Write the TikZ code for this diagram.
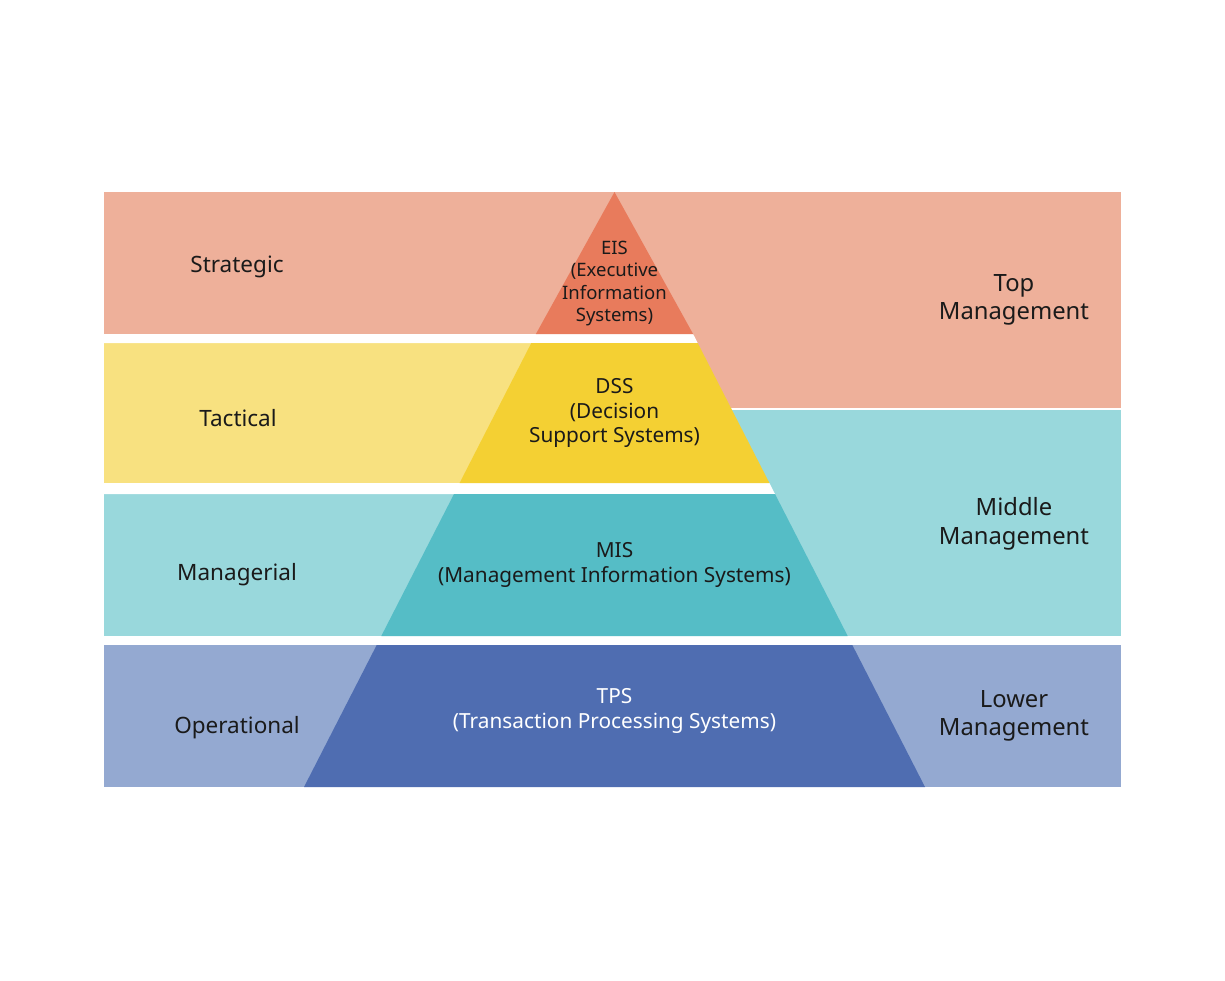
\documentclass[tikz,border=0pt]{standalone}
\usepackage{fontspec}
\setmainfont{Noto Sans}
\definecolor{topL}{HTML}{EEB09A}
\definecolor{eis}{HTML}{E87B5C}
\definecolor{tacL}{HTML}{F8E180}
\definecolor{dss}{HTML}{F4D033}
\definecolor{midL}{HTML}{99D8DC}
\definecolor{mis}{HTML}{55BDC6}
\definecolor{lowL}{HTML}{94A9D1}
\definecolor{tps}{HTML}{4F6DB1}
\definecolor{txt}{HTML}{1A1A1A}
\tikzset{
  sidelabel/.style={text=txt,align=center,inner sep=0pt,font=\fontsize{22.5}{28}\selectfont},
  mgmtlabel/.style={text=txt,align=center,inner sep=0pt,font=\fontsize{23.8}{28.5}\selectfont},
  pyrlabel/.style={text=txt,align=center,inner sep=0pt,font=\fontsize{20.8}{24.5}\selectfont},
  eislabel/.style={text=txt,align=center,inner sep=0pt,font=\fontsize{18.5}{22.3}\selectfont},
}
\begin{document}
\begin{tikzpicture}[x=1pt,y=-1pt]
\useasboundingbox (0,0) rectangle (1225,980);
\fill[white] (0,0) rectangle (1225,980);
% right bands
\fill[topL] (614.5,192) rectangle (1121,408);
\fill[midL] (614.5,410) rectangle (1121,636);
\fill[lowL] (614.5,645) rectangle (1121,787);
% left bands
\fill[topL] (104,192) rectangle (614.5,334);
\fill[tacL] (104,343) rectangle (614.5,483);
\fill[midL] (104,494) rectangle (614.5,636);
\fill[lowL] (104,645) rectangle (614.5,787);
% white gaps inside the pyramid region
\fill[white] (104,334) -- (693.1,334) -- (697.7,343) -- (104,343) -- cycle;
\fill[white] (104,483) -- (769.4,483) -- (775,494) -- (104,494) -- cycle;
% pyramid layers
\fill[eis] (614.5,192) -- (693.1,334) -- (535.9,334) -- cycle;
\fill[dss] (531.3,343) -- (697.7,343) -- (769.4,483) -- (459.6,483) -- cycle;
\fill[mis] (454,494) -- (775,494) -- (847.7,636) -- (381.3,636) -- cycle;
\fill[tps] (376.7,645) -- (852.3,645) -- (925,787) -- (304,787) -- cycle;
% left labels
\node[sidelabel] (strategic) at (237,267) {Strategic};
\node[sidelabel] (tactical) at (238,418.5) {Tactical};
\node[sidelabel] (managerial) at (237,575) {Managerial};
\node[sidelabel] (operational) at (237,728) {Operational};
% right labels
\node[mgmtlabel] (topm) at (1014,300) {Top\\Management};
\node[mgmtlabel] (midm) at (1014,524) {Middle\\Management};
\node[mgmtlabel] (lowm) at (1014,716) {Lower\\Management};
% pyramid labels
\node[eislabel] (eisl) at (614.5,283.5) {EIS\\(Executive\\Information\\Systems)};
\node[pyrlabel] (dssl) at (614.5,413) {DSS\\(Decision\\Support Systems)};
\node[pyrlabel] (misl) at (614.5,565) {MIS\\(Management Information Systems)};
\node[pyrlabel,text=white] (tpsl) at (614.5,711) {TPS\\(Transaction Processing Systems)};
\end{tikzpicture}
\end{document}
